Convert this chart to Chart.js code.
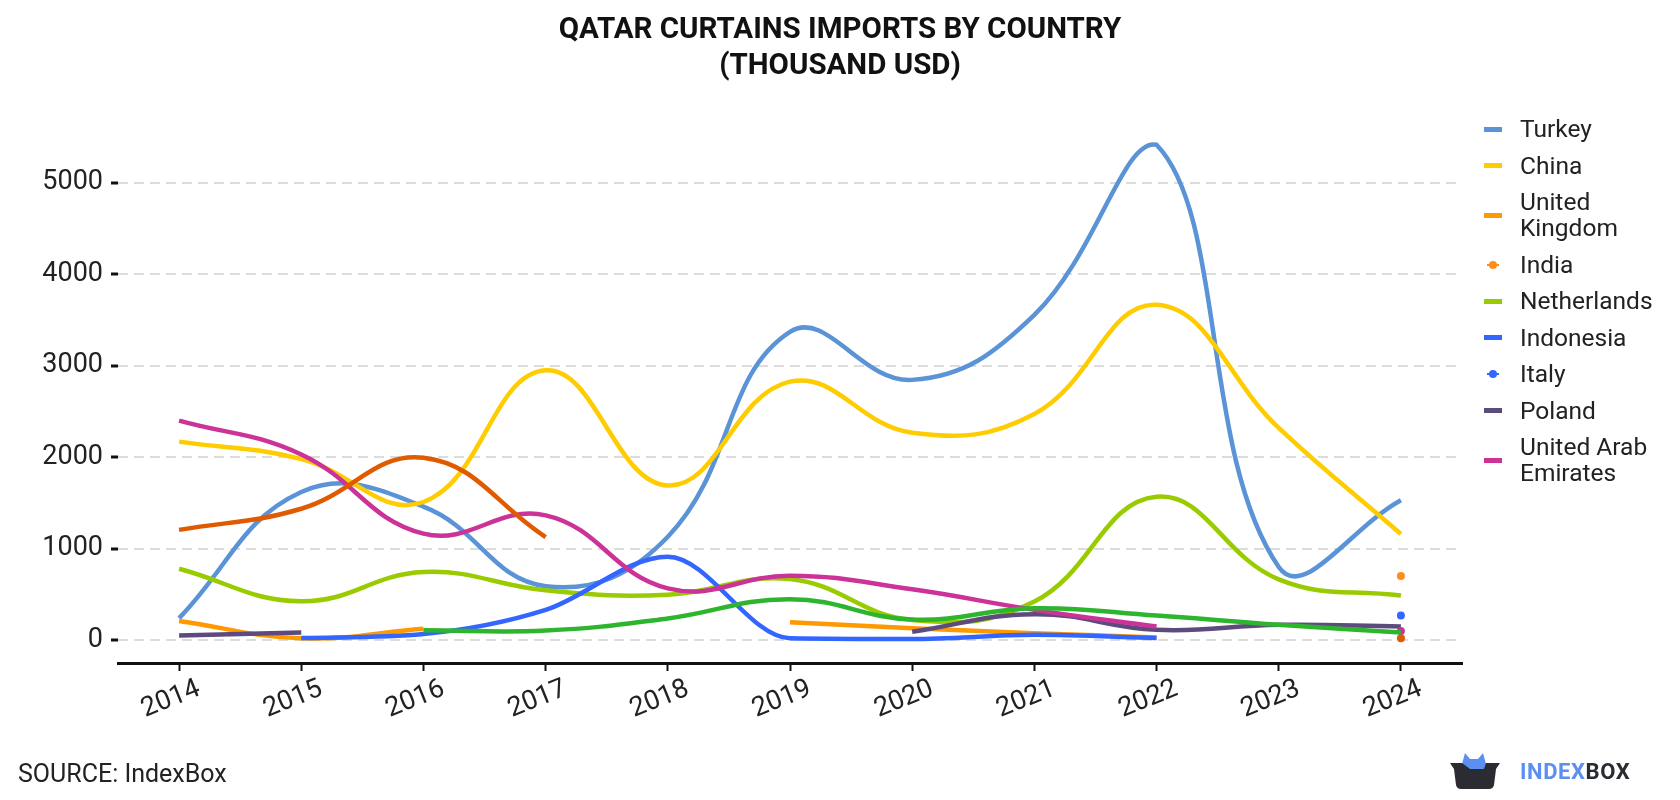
<!DOCTYPE html>
<html>
<head>
<meta charset="utf-8">
<title>Qatar Curtains Imports by Country</title>
<script src="https://cdn.jsdelivr.net/npm/chart.js@4.4.1/dist/chart.umd.min.js"></script>
<style>
    html, body { margin: 0; padding: 0; background: #fff; }
    #wrap { position: relative; width: 1680px; height: 800px; font-family: Roboto, "Noto Sans", sans-serif; color: #222; }
    #chart { position: absolute; left: 0; top: 0; }
    #title { position: absolute; left: 0; top: 10px; width: 1680px; text-align: center; font-size: 29.5px; line-height: 36px; font-weight: 700; color: #111; }
    #legend { position: absolute; left: 1484px; top: 116px; }
    .item { display: flex; align-items: center; margin-bottom: 10.5px; }
    .item .sym { width: 18px; height: 26px; position: relative; margin-right: 18px; flex: none; }
    .item .sym .bar { position: absolute; left: 0; top: 10.5px; width: 18px; height: 5px; }
    .item .sym .thin { position: absolute; left: 3px; top: 12px; width: 12px; height: 2px; }
    .item .sym .dot { position: absolute; left: 5px; top: 9px; width: 8px; height: 8px; border-radius: 50%; }
    .item .txt { font-size: 24.5px; line-height: 26px; color: #222; }
    #source { position: absolute; left: 18px; top: 759px; font-size: 25px; color: #222; }
    #logo { position: absolute; left: 1450px; top: 752px; display: flex; align-items: center; }
    #logo .name { margin-left: 20px; font-weight: 700; font-size: 22px; letter-spacing: 0.6px; }
</style>
</head>
<body>
<div id="wrap">
    <canvas id="chart" width="1680" height="800"></canvas>
    <div id="title">QATAR CURTAINS IMPORTS BY COUNTRY<br>(THOUSAND USD)</div>
    <div id="legend"></div>
    <div id="source">SOURCE: IndexBox</div>
    <div id="logo">
        <svg width="50" height="38" viewBox="0 0 50 38">
            <path d="M12 12 L15 1 L20 7 L28 7 L33 1 L36 12 Z" fill="#5b8ff0"/>
            <path d="M0 11 L50 11 L46 17 L44 33 Q43 37 39 37 L11 37 Q7 37 6 33 L4 17 Z" fill="#2a2b33"/>
            <path d="M12 11 L36 11 L34 17 L20 17 Z" fill="#5b8ff0"/>
        </svg>
        <span class="name"><span style="color:#5b8ff0">INDEX</span><span style="color:#2a2b33">BOX</span></span>
    </div>
</div>
<script>
// years on the x axis
const years = ['2014', '2015', '2016', '2017', '2018', '2019', '2020', '2021', '2022', '2023', '2024'];
const yTicks = [0, 1000, 2000, 3000, 4000, 5000];

// values, thousand USD
const turkey = [240, 1620, 1460, 590, 1130, 3370, 2845, 3556, 5415, 800, 1530];
const china = [2170, 1980, 1510, 2950, 1690, 2826, 2268, 2473, 3665, 2320, 1160];
const unitedKingdom = [210, 20, 124, null, null, 196, 131, 76, 30, null, null];
const india = [null, null, null, null, null, null, null, null, null, null, 700];
const netherlands = [780, 425, 744, 545, 496, 668, 220, 422, 1567, 665, 487];
const indonesia = [null, 22, 66, 330, 912, 20, 11, 58, 22, null, null];
const italy = [null, null, null, null, null, null, null, null, null, null, 270];
const poland = [51, 84, null, null, null, null, 91, 284, 113, 167, 149];
const uae = [2400, 2030, 1164, 1364, 566, 705, 556, 331, 149, null, 100];
// two more series that are drawn but not in the legend
const otherOrange = [1205, 1436, 1993, 1127, null, null, null, null, null, null, 20];
const otherGreen = [null, null, 109, 105, 237, 448, 225, 349, 269, 167, 84];

const series = [
    { label: 'Turkey', data: turkey, color: '#5b93d7' },
    { label: 'China', data: china, color: '#ffcc00' },
    { label: 'United Kingdom', data: unitedKingdom, color: '#ff9900', text: 'United<br>Kingdom' },
    { label: 'India', data: india, color: '#ff8c1a', dot: true },
    { label: 'Netherlands', data: netherlands, color: '#99cc00' },
    { label: 'Indonesia', data: indonesia, color: '#3366ff', monotone: true },
    { label: 'Italy', data: italy, color: '#3366ff', dot: true },
    { label: 'Poland', data: poland, color: '#5e4b7e' },
    { label: 'United Arab Emirates', data: uae, color: '#cc3399', text: 'United Arab<br>Emirates' },
    { label: 'other1', data: otherOrange, color: '#e05a00', hidden: true },
    { label: 'other2', data: otherGreen, color: '#2eb52e', hidden: true }
];

// a point with no neighbours is shown as a dot
function isolatedRadius(ctx) {
    const d = ctx.dataset.data;
    const i = ctx.dataIndex;
    if (d[i] == null) return 0;
    const prev = i > 0 ? d[i - 1] : null;
    const next = i < d.length - 1 ? d[i + 1] : null;
    return (prev == null && next == null) ? 4 : 0;
}

const datasets = series.map((s, i) => ({
    label: s.label,
    data: s.data,
    borderColor: s.color,
    backgroundColor: s.color,
    borderWidth: 4.5,
    tension: 0.42,
    cubicInterpolationMode: s.monotone ? 'monotone' : 'default',
    fill: false,
    pointRadius: isolatedRadius,
    pointHoverRadius: 0,
    pointBorderWidth: 0,
    order: -i
}));

// legend
const legend = document.getElementById('legend');
series.filter(s => !s.hidden).forEach(s => {
    const el = document.createElement('div');
    el.className = 'item';
    const sym = s.dot
        ? `<span class="thin" style="background:${s.color}"></span><span class="dot" style="background:${s.color}"></span>`
        : `<span class="bar" style="background:${s.color}"></span>`;
    el.innerHTML = `<div class="sym">${sym}</div><div class="txt">${s.text || s.label}</div>`;
    legend.appendChild(el);
});

Chart.defaults.font.family = 'Roboto, "Noto Sans", sans-serif';
Chart.defaults.color = '#222';

new Chart(document.getElementById('chart'), {
    type: 'line',
    data: { labels: years, datasets: datasets },
    options: {
        responsive: false,
        animation: false,
        layout: { padding: { left: 0, right: 218, top: 137, bottom: 0 } },
        plugins: {
            legend: { display: false },
            tooltip: { enabled: false }
        },
        scales: {
            x: {
                offset: true,
                afterFit: s => { s.height = 137; },
                border: { display: true, color: '#111', width: 3 },
                grid: { drawOnChartArea: false, tickLength: 8, tickColor: '#111', tickWidth: 2 },
                ticks: { font: { size: 27 }, color: '#222', minRotation: 22, maxRotation: 22, labelOffset: 20, padding: 2 }
            },
            y: {
                min: -250,
                max: 5500,
                afterFit: s => { s.width = 118; },
                afterBuildTicks: s => { s.ticks = yTicks.map(v => ({ value: v })); },
                border: { display: false, dash: [10, 6] },
                grid: { color: '#dcdcdc', lineWidth: 2, tickLength: 7, tickColor: '#111', tickWidth: 3, tickBorderDash: [] },
                ticks: { font: { size: 27 }, color: '#222', padding: 8, callback: v => String(v) }
            }
        }
    }
});
</script>
</body>
</html>
